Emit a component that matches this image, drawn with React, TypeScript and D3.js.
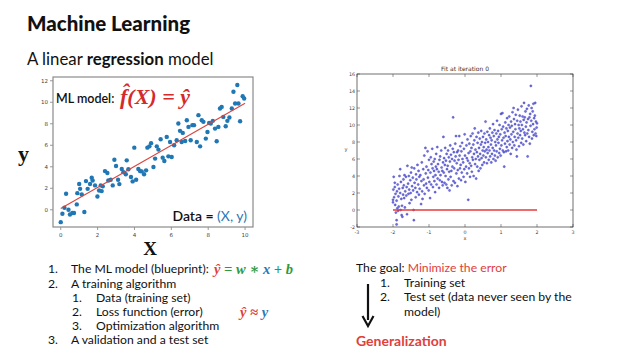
import React from "react";
import * as d3 from "d3";

// ---- left chart (ML model fit) ----
const leftPoints: [number, number][] = [
  [0, -1.15], [0.09, -0.37], [0.2, 0.19], [0.29, 1.49], [0.42, 0], [0.5, -0.44],
  [0.63, -0.3], [0.72, -0.3], [0.87, 0.5], [0.9, 1.55], [1.0, 2.4], [1.05, 1.95],
  [1.14, 1.43], [1.28, -0.2], [1.37, 2.67], [1.46, 1.95], [1.59, 2.4], [1.68, 2.98],
  [1.73, 2.73], [1.86, 2.27], [1.99, 1.24], [2.08, 1.8], [2.17, 2.27], [2.22, 1.74],
  [2.28, 2.18], [2.4, 3.6], [2.53, 3.42], [2.58, 2.73], [2.71, 2.8], [2.82, 2.27],
  [2.91, 4.66], [3.0, 4.07], [3.11, 2.8], [3.18, 2.39], [3.31, 3.79], [3.4, 3.5],
  [3.53, 3.3], [3.58, 4.6], [3.67, 3.77], [3.81, 3.05], [3.9, 2.64], [3.99, 5.78],
  [4.09, 2.8], [4.21, 3.8], [4.3, 3.6], [4.39, 3.57], [4.52, 3.3], [4.63, 3.67],
  [4.7, 5.78], [4.81, 5.9], [4.9, 6.2], [5.03, 3.98], [5.12, 4.76], [5.21, 5.9],
  [5.3, 5.6], [5.42, 6.56], [5.53, 4.85], [5.62, 4.54], [5.75, 6.78], [5.84, 4.97],
  [5.93, 6.31], [6.02, 4.91], [6.15, 6.0], [6.29, 6.47], [6.38, 8.02], [6.47, 7.34],
  [6.56, 6.31], [6.62, 7.15], [6.75, 6.4], [6.84, 8.33], [6.93, 7.71], [7.05, 6.47],
  [7.14, 7.87], [7.23, 7.87], [7.38, 6.31], [7.47, 8.8], [7.56, 5.9], [7.65, 8.33],
  [7.74, 8.18], [7.87, 6.62], [7.96, 7.24], [8.05, 8.08], [8.14, 8.02], [8.25, 8.27],
  [8.37, 7.55], [8.46, 6.37], [8.55, 7.71], [8.64, 9.42], [8.73, 9.57], [8.82, 8.64],
  [8.95, 7.77], [9.04, 8.27], [9.15, 8.58], [9.28, 9.42], [9.37, 10.98], [9.46, 9.88],
  [9.58, 11.6], [9.64, 9.88], [9.73, 8.24], [9.87, 10.57], [9.95, 10.35],
];
const leftFit: [number, number][] = [[0, 0.12], [10, 9.9]];
const leftXTicks = [0, 2, 4, 6, 8, 10];
const leftYTicks = [0, 2, 4, 6, 8, 10, 12];

// ---- right chart (Fit at iteration 0) ----
const rightPoints: [number, number][] = [
  [-2.0, 1.2], [-1.99, 2.4], [-1.98, 3.9], [-2.0, 0.9], [-1.97, 1.5],
  [-1.95, 2.7], [-1.94, 0.6], [-1.93, 1.9], [-1.92, -0.3], [-1.95, 3.2],
  [-1.9, 1.1], [-1.89, 2.2], [-1.88, 0.2], [-1.9, -1.2], [-1.9, -1.7], [-1.87, 3.0],
  [-1.85, 1.6], [-1.84, 0.4], [-1.83, 2.5], [-1.82, 4.0], [-1.86, -0.1],
  [-1.8, 2.0], [-1.79, 0.0], [-1.78, 3.3], [-1.77, 1.3], [-1.8, 4.8], [-1.76, -0.6],
  [-1.74, -0.8], [-1.73, 2.6], [-1.72, 1.8], [-1.71, 3.6], [-1.75, 0.5],
  [-1.7, 2.9], [-1.69, 1.4], [-1.68, 4.1], [-1.67, 0.3], [-1.66, 2.2],
  [-1.64, 3.9], [-1.63, 1.7], [-1.62, 2.7], [-1.61, -0.5], [-1.6, 5.2],
  [-1.58, 3.1], [-1.57, 1.9], [-1.56, 4.0], [-1.55, 2.4], [-1.54, 0.8],
  [-1.52, 3.5], [-1.51, 2.0], [-1.5, 4.4], [-1.49, 1.2], [-1.48, 5.0], [-1.47, 2.8],
  [-1.45, 3.8], [-1.44, 2.3], [-1.43, 0.0], [-1.42, -1.2], [-1.41, 4.9], [-1.4, 3.2],
  [-1.38, 2.6], [-1.37, 1.5], [-1.36, 4.2], [-1.35, 3.6], [-1.33, 2.1], [-1.32, 5.3],
  [-1.3, 3.0], [-1.29, 4.6], [-1.28, 1.8], [-1.27, 3.9], [-1.26, 2.5],
  [-1.24, 4.1], [-1.22, 0.7], [-1.21, 3.4], [-1.2, 5.6], [-1.19, 2.2], [-1.18, 1.3],
  [-1.16, 4.8], [-1.15, 3.6], [-1.14, 2.9], [-1.13, 6.4], [-1.12, 1.9],
  [-1.1, 7.3], [-1.09, 4.3], [-1.08, 3.1], [-1.07, 5.1], [-1.06, 2.6],
  [-1.04, 6.9], [-1.03, 3.8], [-1.02, 4.7], [-1.01, 2.3], [-1.0, 5.9], [-0.99, 3.3],
  [-0.97, 1.4], [-0.96, 4.4], [-0.95, 6.2], [-0.94, 3.0], [-0.93, 5.4],
  [-0.91, 7.2], [-0.9, 4.9], [-0.89, 2.7], [-0.88, 3.9], [-0.87, 5.7], [-0.86, 4.6],
  [-0.85, 3.4], [-0.84, 6.0], [-0.83, 2.1], [-0.82, 4.1], [-0.81, 5.1],
  [-0.8, 6.6], [-0.79, 3.0], [-0.78, 4.8], [-0.77, 7.4], [-0.76, 3.7], [-0.75, 5.4],
  [-0.73, 4.5], [-0.72, 2.6], [-0.71, 5.9], [-0.7, 3.5], [-0.69, 6.3], [-0.68, 4.1],
  [-0.66, 7.0], [-0.65, 5.0], [-0.64, 3.3], [-0.63, 4.6], [-0.62, 2.9], [-0.61, 5.6],
  [-0.6, 8.6], [-0.59, 4.4], [-0.58, 6.1], [-0.57, 3.2], [-0.56, 5.3], [-0.55, 7.3],
  [-0.54, 4.0], [-0.53, 5.8], [-0.52, 3.0], [-0.51, 6.6], [-0.5, 4.8], [-0.49, 2.6],
  [-0.48, 5.2], [-0.47, 7.0], [-0.46, 3.6], [-0.45, 6.2], [-0.44, 4.5], [-0.43, 2.3],
  [-0.42, 5.7], [-0.41, 7.6], [-0.4, 3.9], [-0.39, 6.5], [-0.38, 4.6], [-0.37, 2.9],
  [-0.36, 6.0], [-0.35, 5.1], [-0.34, 7.2], [-0.33, 10.9], [-0.32, 3.4], [-0.31, 6.8],
  [-0.3, 4.9], [-0.29, 5.8], [-0.28, 3.2], [-0.27, 7.8], [-0.26, 6.3], [-0.25, 8.7],
  [-0.24, 4.3], [-0.23, 5.5], [-0.22, 6.8], [-0.21, 2.8], [-0.2, 4.7], [-0.19, 7.0],
  [-0.18, 5.9], [-0.17, 3.7], [-0.16, 8.7], [-0.15, 6.4], [-0.14, 4.9], [-0.13, 7.5],
  [-0.12, 5.3], [-0.11, 3.5], [-0.1, 6.9], [-0.09, 4.4], [-0.08, 7.9], [-0.07, 6.0],
  [-0.05, 5.6], [-0.04, 3.9], [-0.03, 7.2], [-0.02, 4.8], [-0.01, 8.9], [0.0, 6.4], [0.01, 3.3],
  [0.03, 5.1], [0.04, 7.6], [0.05, 6.1], [0.06, 4.3], [0.07, 8.3], [0.08, 5.8],
  [0.09, 1.2], [0.1, 6.7], [0.11, 4.9], [0.12, 7.8], [0.13, 5.5], [0.14, 3.9],
  [0.15, 6.9], [0.16, 8.7], [0.17, 5.2], [0.18, 7.3], [0.19, 4.5], [0.2, 6.2],
  [0.21, 9.0], [0.22, 5.9], [0.23, 7.7], [0.24, 4.0], [0.25, 6.6], [0.26, 8.2],
  [0.27, 9.6], [0.28, 5.4], [0.29, 7.1], [0.3, 6.0], [0.31, 3.7], [0.32, 8.6],
  [0.33, 6.8], [0.34, 5.1], [0.35, 7.9], [0.36, 6.3], [0.37, 9.1], [0.38, 4.6],
  [0.39, 7.3], [0.4, 5.9], [0.41, 8.4], [0.42, 6.6], [0.43, 4.9],
  [0.44, 7.7], [0.45, 9.3], [0.46, 6.1], [0.47, 8.0], [0.48, 5.3], [0.49, 7.0],
  [0.5, 8.6], [0.51, 6.4], [0.52, 7.4], [0.53, 5.6], [0.54, 9.0], [0.55, 6.9],
  [0.56, 7.9], [0.57, 10.4], [0.58, 6.2], [0.59, 8.3], [0.6, 7.1], [0.61, 5.5],
  [0.62, 9.2], [0.63, 6.7], [0.64, 8.0], [0.65, 7.4], [0.66, 5.9], [0.67, 8.8],
  [0.68, 7.0], [0.69, 9.6], [0.7, 6.3], [0.71, 8.5], [0.72, 7.7], [0.73, 5.6],
  [0.74, 8.2], [0.75, 6.6], [0.76, 9.1], [0.77, 7.3], [0.78, 10.1], [0.79, 6.0],
  [0.8, 8.7], [0.81, 7.0], [0.82, 9.4], [0.83, 6.4], [0.84, 8.0], [0.85, 5.8],
  [0.86, 7.6], [0.87, 9.0], [0.88, 6.9], [0.89, 10.5], [0.9, 8.3], [0.91, 6.2],
  [0.92, 9.3], [0.93, 7.9], [0.94, 8.6], [0.95, 6.7], [0.96, 10.0], [0.97, 7.2],
  [0.98, 8.9], [0.99, 6.4], [1.0, 11.3], [1.01, 7.6], [1.02, 9.5], [1.03, 8.2],
  [1.04, 11.4], [1.05, 7.0], [1.06, 9.8], [1.07, 8.5], [1.08, 6.8], [1.09, 5.1],
  [1.1, 9.1], [1.11, 7.8], [1.12, 10.3], [1.13, 8.7], [1.14, 6.9], [1.15, 9.6],
  [1.16, 7.4], [1.17, 10.8], [1.18, 8.1], [1.19, 9.3], [1.2, 7.0], [1.21, 10.0],
  [1.22, 8.6], [1.23, 11.0], [1.24, 7.7], [1.25, 9.7], [1.26, 8.3], [1.27, 6.6],
  [1.28, 10.4], [1.29, 8.9], [1.3, 9.9], [1.31, 7.3], [1.32, 11.5], [1.33, 8.0],
  [1.34, 9.2], [1.35, 12.0], [1.36, 10.7], [1.37, 7.6], [1.38, 8.6], [1.39, 10.1],
  [1.4, 9.5], [1.41, 11.2], [1.42, 8.2], [1.43, 7.1], [1.44, 6.3], [1.45, 10.5],
  [1.46, 9.0], [1.47, 11.8], [1.48, 8.5], [1.49, 10.0], [1.5, 7.5], [1.51, 9.6],
  [1.52, 11.1], [1.53, 8.8], [1.54, 10.4], [1.55, 9.3], [1.56, 7.9], [1.57, 12.2],
  [1.58, 10.0], [1.59, 8.4], [1.6, 11.0], [1.61, 9.5], [1.62, 7.7], [1.63, 10.6],
  [1.64, 12.6], [1.65, 9.1], [1.66, 10.9], [1.67, 8.8], [1.68, 11.6], [1.69, 9.8],
  [1.7, 8.1], [1.71, 10.3], [1.72, 11.9], [1.73, 9.0], [1.74, 6.3], [1.75, 10.7],
  [1.76, 9.4], [1.77, 12.3], [1.78, 8.6], [1.79, 10.9], [1.8, 7.8], [1.81, 11.3],
  [1.82, 9.9], [1.83, 14.6], [1.84, 10.5], [1.85, 12.0], [1.86, 8.4], [1.87, 9.2],
  [1.88, 11.6], [1.89, 10.1], [1.9, 12.5], [1.91, 8.8], [1.92, 10.8], [1.93, 9.5],
  [1.94, 11.1], [1.95, 12.6], [1.96, 9.0], [1.97, 10.4], [1.98, 8.7], [1.99, 9.7], [2.0, 10.2],
];
const rightFit: [number, number][] = [[-2, 0], [2, 0]];
const rightXTicks = [-3, -2, -1, 0, 1, 2, 3];
const rightYTicks = [-2, 0, 2, 4, 6, 8, 10, 12, 14, 16];

const SANS = "Lato, 'Open Sans', sans-serif";
const SERIF = "'Liberation Serif', 'DejaVu Serif', serif";
const RED = "#e0403a";
const GREEN = "#2e9a3e";
const BLUE = "#2a78b4";

export default function App() {
  // left plot
  const lx = d3.scaleLinear().domain([-0.42, 10.43]).range([53, 253]);
  const ly = d3.scaleLinear().domain([-1.6, 12.35]).range([227, 77]);
  const lLine = d3.line<[number, number]>().x((d) => lx(d[0])).y((d) => ly(d[1]));

  // right plot
  const rx = d3.scaleLinear().domain([-3, 3]).range([357, 573]);
  const ry = d3.scaleLinear().domain([-2, 16]).range([227, 74]);
  const rLine = d3.line<[number, number]>().x((d) => rx(d[0])).y((d) => ry(d[1]));

  const bodySize = 12.2;

  return (
    <svg width={638} height={359} style={{ position: "absolute", left: 0, top: 0, background: "#fff" }}>
      {/* slide titles */}
      <text x={27} y={31} fontFamily={SANS} fontWeight={900} fontSize={20.5} fill="#111">
        Machine Learning
      </text>
      <text x={27} y={65} fontFamily={SANS} fontSize={16.8} fill="#111">
        A linear <tspan fontWeight={700}>regression</tspan> model
      </text>

      {/* left chart */}
      <g>
        {leftYTicks.map((t) => (
          <g key={"ly" + t}>
            <line x1={lx.range()[0] - 3} x2={lx.range()[0]} y1={ly(t)} y2={ly(t)} stroke="#555" strokeWidth={0.6} />
            <text x={lx.range()[0] - 5} y={ly(t) + 2} textAnchor="end" fontFamily="DejaVu Sans" fontSize={5.5} fill="#444">
              {t}
            </text>
          </g>
        ))}
        {leftXTicks.map((t) => (
          <g key={"lx" + t}>
            <line x1={lx(t)} x2={lx(t)} y1={ly.range()[0]} y2={ly.range()[0] + 3} stroke="#555" strokeWidth={0.6} />
            <text x={lx(t)} y={ly.range()[0] + 10} textAnchor="middle" fontFamily="DejaVu Sans" fontSize={5.5} fill="#444">
              {t}
            </text>
          </g>
        ))}
        {leftPoints.map((p, i) => (
          <circle key={"lp" + i} cx={lx(p[0])} cy={ly(p[1])} r={2.2} fill="#1f77b4" />
        ))}
        <path d={lLine(leftFit) || ""} stroke="#d9443c" strokeWidth={1.1} fill="none" />
        <rect x={53} y={77} width={200} height={150} fill="none" stroke="#8a8a8a" strokeWidth={1.2} />
        <text x={56} y={103} fontFamily={SANS} fontSize={12.5} fontWeight={600} fill="#111">
          ML model:
        </text>
        <text x={120} y={104} fontFamily={SERIF} fontStyle="italic" fontWeight={700} fontSize={22} fill="#d42a2a">
          f̂(X) = ŷ
        </text>
        <text x={247} y={221} textAnchor="end" fontFamily={SANS} fontSize={14} fontWeight={600} fill="#111">
          Data = <tspan fill={BLUE} fontWeight={400}>(X, y)</tspan>
        </text>
        <text x={18} y={161} fontFamily={SERIF} fontWeight={700} fontSize={22} fill="#111">
          y
        </text>
        <text x={150} y={255} textAnchor="middle" fontFamily={SERIF} fontWeight={700} fontSize={19} fill="#111">
          X
        </text>
      </g>

      {/* right chart */}
      <g>
        <text x={465} y={71} textAnchor="middle" fontFamily="DejaVu Sans" fontSize={6} fill="#333">
          Fit at iteration 0
        </text>
        {rightYTicks.map((t) => (
          <g key={"ry" + t}>
            <line x1={rx.range()[0]} x2={rx.range()[0] + 3} y1={ry(t)} y2={ry(t)} stroke="#333" strokeWidth={0.5} />
            <line x1={rx.range()[1] - 3} x2={rx.range()[1]} y1={ry(t)} y2={ry(t)} stroke="#333" strokeWidth={0.5} />
            <text x={rx.range()[0] - 2} y={ry(t) + 1.8} textAnchor="end" fontFamily="DejaVu Sans" fontSize={4.8} fill="#444">
              {t}
            </text>
          </g>
        ))}
        {rightXTicks.map((t) => (
          <g key={"rx" + t}>
            <line x1={rx(t)} x2={rx(t)} y1={ry.range()[0]} y2={ry.range()[0] - 3} stroke="#333" strokeWidth={0.5} />
            <line x1={rx(t)} x2={rx(t)} y1={ry.range()[1]} y2={ry.range()[1] + 3} stroke="#333" strokeWidth={0.5} />
            <text x={rx(t)} y={ry.range()[0] + 7} textAnchor="middle" fontFamily="DejaVu Sans" fontSize={4.8} fill="#444">
              {t}
            </text>
          </g>
        ))}
        <text x={465} y={240} textAnchor="middle" fontFamily="DejaVu Sans" fontSize={5} fill="#444">
          x
        </text>
        <text x={346} y={151} textAnchor="middle" fontFamily="DejaVu Sans" fontSize={5} fill="#444">
          y
        </text>
        {rightPoints.map((p, i) => (
          <circle key={"rp" + i} cx={rx(p[0])} cy={ry(p[1])} r={1.1} fill="#7070e0" stroke="#2828b0" strokeWidth={0.35} />
        ))}
        <path d={rLine(rightFit) || ""} stroke="#e83a3a" strokeWidth={1.3} fill="none" />
        <rect x={357} y={74} width={216} height={153} fill="none" stroke="#333" strokeWidth={0.7} />
      </g>

      {/* left list */}
      <g fontFamily={SANS} fontSize={bodySize} fill="#111">
        <text x={48} y={273}>1.</text>
        <text x={71} y={273}>The ML model (blueprint):</text>
        <text x={48} y={288}>2.</text>
        <text x={71} y={288}>A training algorithm</text>
        <text x={72} y={302}>1.</text>
        <text x={96} y={302}>Data (training set)</text>
        <text x={72} y={316}>2.</text>
        <text x={96} y={316}>Loss function (error)</text>
        <text x={72} y={330}>3.</text>
        <text x={96} y={330}>Optimization algorithm</text>
        <text x={48} y={344}>3.</text>
        <text x={71} y={344}>A validation and a test set</text>
      </g>
      <text x={214} y={274} fontFamily={SERIF} fontStyle="italic" fontWeight={700} fontSize={14.5}>
        <tspan fill={RED}>ŷ</tspan>
        <tspan fill={GREEN}> = w ∗ </tspan>
        <tspan fill={BLUE}>x</tspan>
        <tspan fill={GREEN}> + b</tspan>
      </text>
      <text x={240} y={317} fontFamily={SERIF} fontStyle="italic" fontWeight={700} fontSize={14.5}>
        <tspan fill={RED}>ŷ ≈ </tspan>
        <tspan fill={BLUE}>y</tspan>
      </text>

      {/* right list */}
      <g fontFamily={SANS} fontSize={bodySize} fill="#111">
        <text x={356} y={272}>
          The goal: <tspan fill={RED}>Minimize the error</tspan>
        </text>
        <text x={380} y={287}>1.</text>
        <text x={404} y={287}>Training set</text>
        <text x={380} y={301}>2.</text>
        <text x={404} y={301}>Test set (data never seen by the</text>
        <text x={404} y={316}>model)</text>
      </g>
      <line x1={368} x2={368} y1={284} y2={320} stroke="#111" strokeWidth={2.2} />
      <path d="M362.5,316 L368,326 L373.5,316" fill="none" stroke="#111" strokeWidth={2.2} />
      <text x={356} y={346} fontFamily={SANS} fontWeight={700} fontSize={14} fill={RED}>
        Generalization
      </text>
    </svg>
  );
}
